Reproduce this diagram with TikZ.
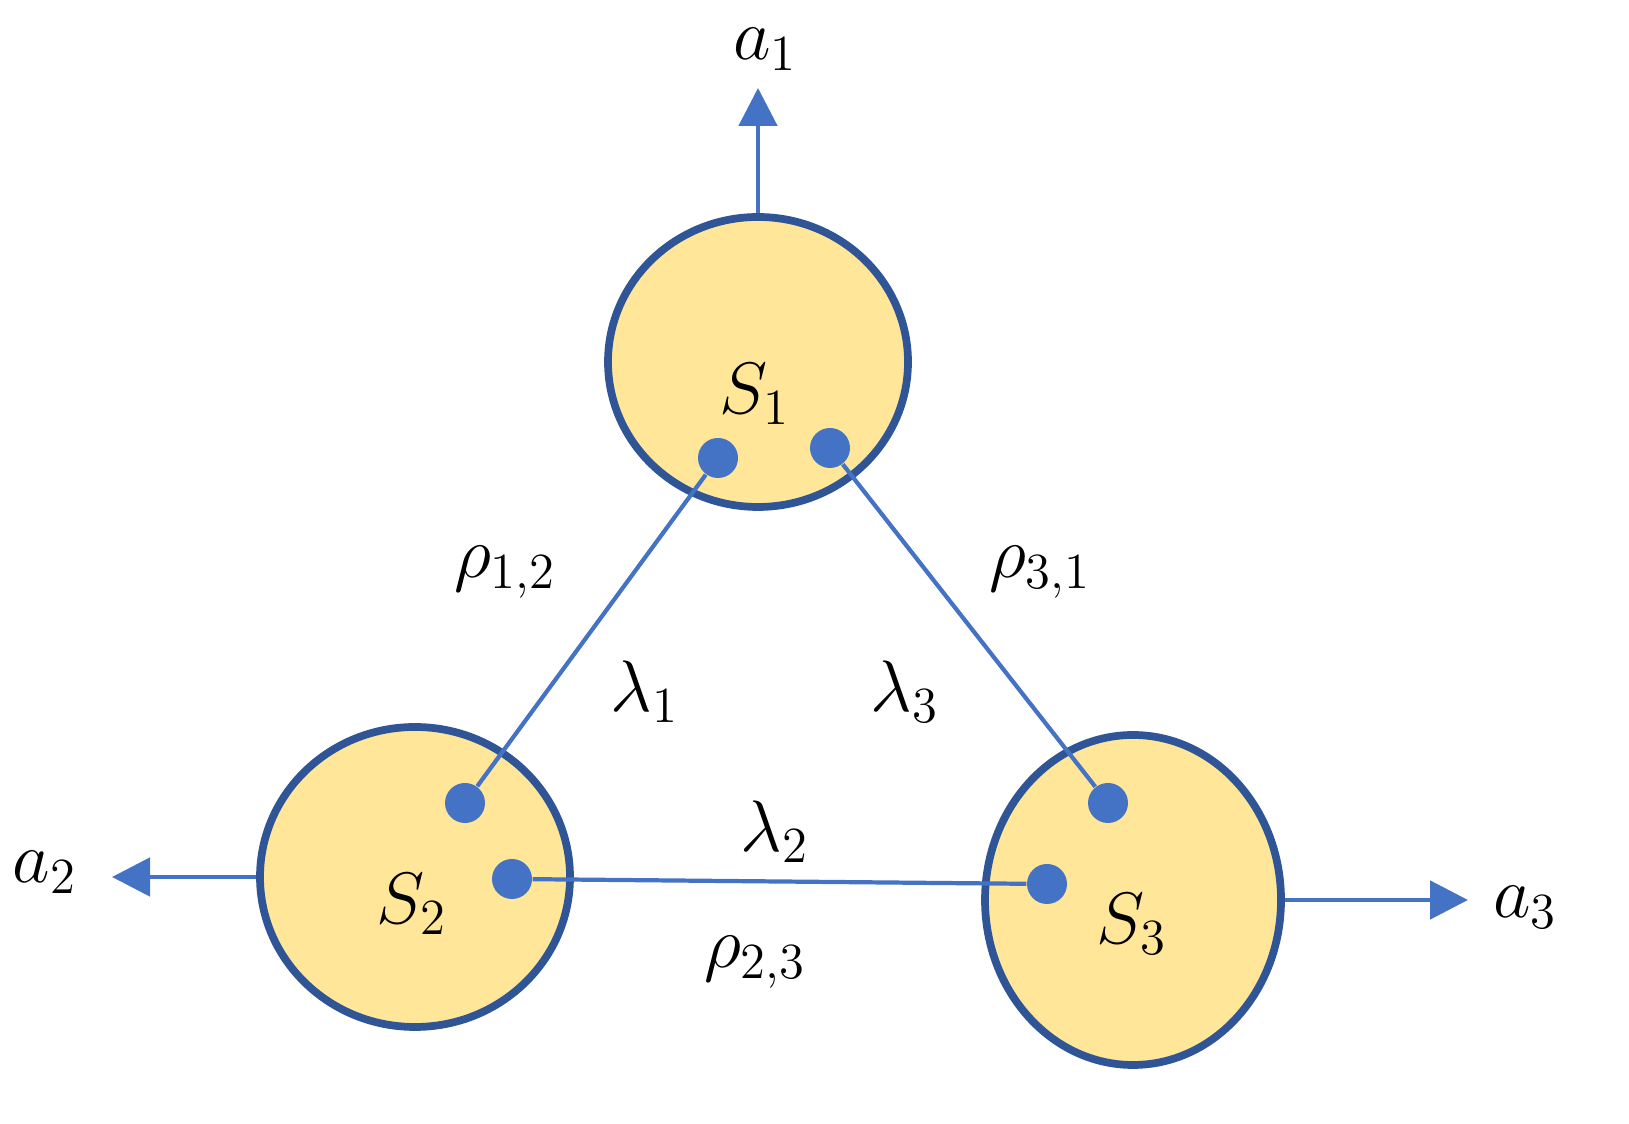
\documentclass[tikz,border=0pt]{standalone}
\usepackage{amsmath}
\usepackage{tikz}
\usepackage{xcolor}
\usetikzlibrary{shapes,arrows,arrows.meta,positioning,calc}
\definecolor{ringblue}{RGB}{47,85,151}
\definecolor{dotblue}{RGB}{68,114,196}
\definecolor{sandfill}{RGB}{255,230,153}

\tikzset{
  station/.style={ellipse, draw=ringblue, line width=2.2pt, fill=sandfill, inner sep=0pt},
  port/.style={circle, fill=dotblue, inner sep=0pt, minimum size=0.4cm},
  link/.style={dotblue, line width=1.2pt},
  outflow/.style={dotblue, line width=1.4pt, -{Triangle[length=0.38cm, width=0.38cm]}},
  lbl/.style={font=\fontsize{20}{24}\selectfont}
}

\begin{document}
\begin{tikzpicture}[scale=1.0]
    \useasboundingbox (0,0) rectangle (16.29,11.24);

    % stations
    \node[station, minimum width=3.0cm, minimum height=2.9cm] (s1) at (7.58,7.62) {};
    \node[station, minimum width=3.1cm, minimum height=3.0cm] (s2) at (4.15,2.47) {};
    \node[station, minimum width=2.96cm, minimum height=3.3cm] (s3) at (11.33,2.24) {};

    \node[lbl] (t1) at (7.55,7.3) {$S_1$};
    \node[lbl] (t2) at (4.12,2.2) {$S_2$};
    \node[lbl] (t3) at (11.32,2.0) {$S_3$};

    % ports
    \node[port] (p12) at (7.18,6.66) {};
    \node[port] (p13) at (8.30,6.76) {};
    \node[port] (p21) at (4.65,3.21) {};
    \node[port] (p23) at (5.12,2.45) {};
    \node[port] (p31) at (11.08,3.21) {};
    \node[port] (p32) at (10.47,2.40) {};

    % links
    \draw[link] (p12) -- (p21);
    \draw[link] (p13) -- (p31);
    \draw[link] (p23) -- (p32);

    % outputs
    \coordinate (e1) at (7.58,10.36);
    \coordinate (e2) at (1.12,2.47);
    \coordinate (e3) at (14.68,2.24);
    \draw[outflow] (s1.north) -- (e1);
    \draw[outflow] (s2.west) -- (e2);
    \draw[outflow] (s3.east) -- (e3);

    \node[lbl] (a1) at (7.65,10.75) {$a_1$};
    \node[lbl] (a2) at (0.45,2.52) {$a_2$};
    \node[lbl] (a3) at (15.25,2.17) {$a_3$};

    % rates and correlations
    \node[lbl] (r12) at (5.05,5.52) {$\rho_{1,2}$};
    \node[lbl] (r31) at (10.40,5.52) {$\rho_{3,1}$};
    \node[lbl] (r23) at (7.55,1.62) {$\rho_{2,3}$};
    \node[lbl] (l1) at (6.45,4.32) {$\lambda_1$};
    \node[lbl] (l3) at (9.05,4.32) {$\lambda_3$};
    \node[lbl] (l2) at (7.75,2.92) {$\lambda_2$};

\end{tikzpicture}
\end{document}
